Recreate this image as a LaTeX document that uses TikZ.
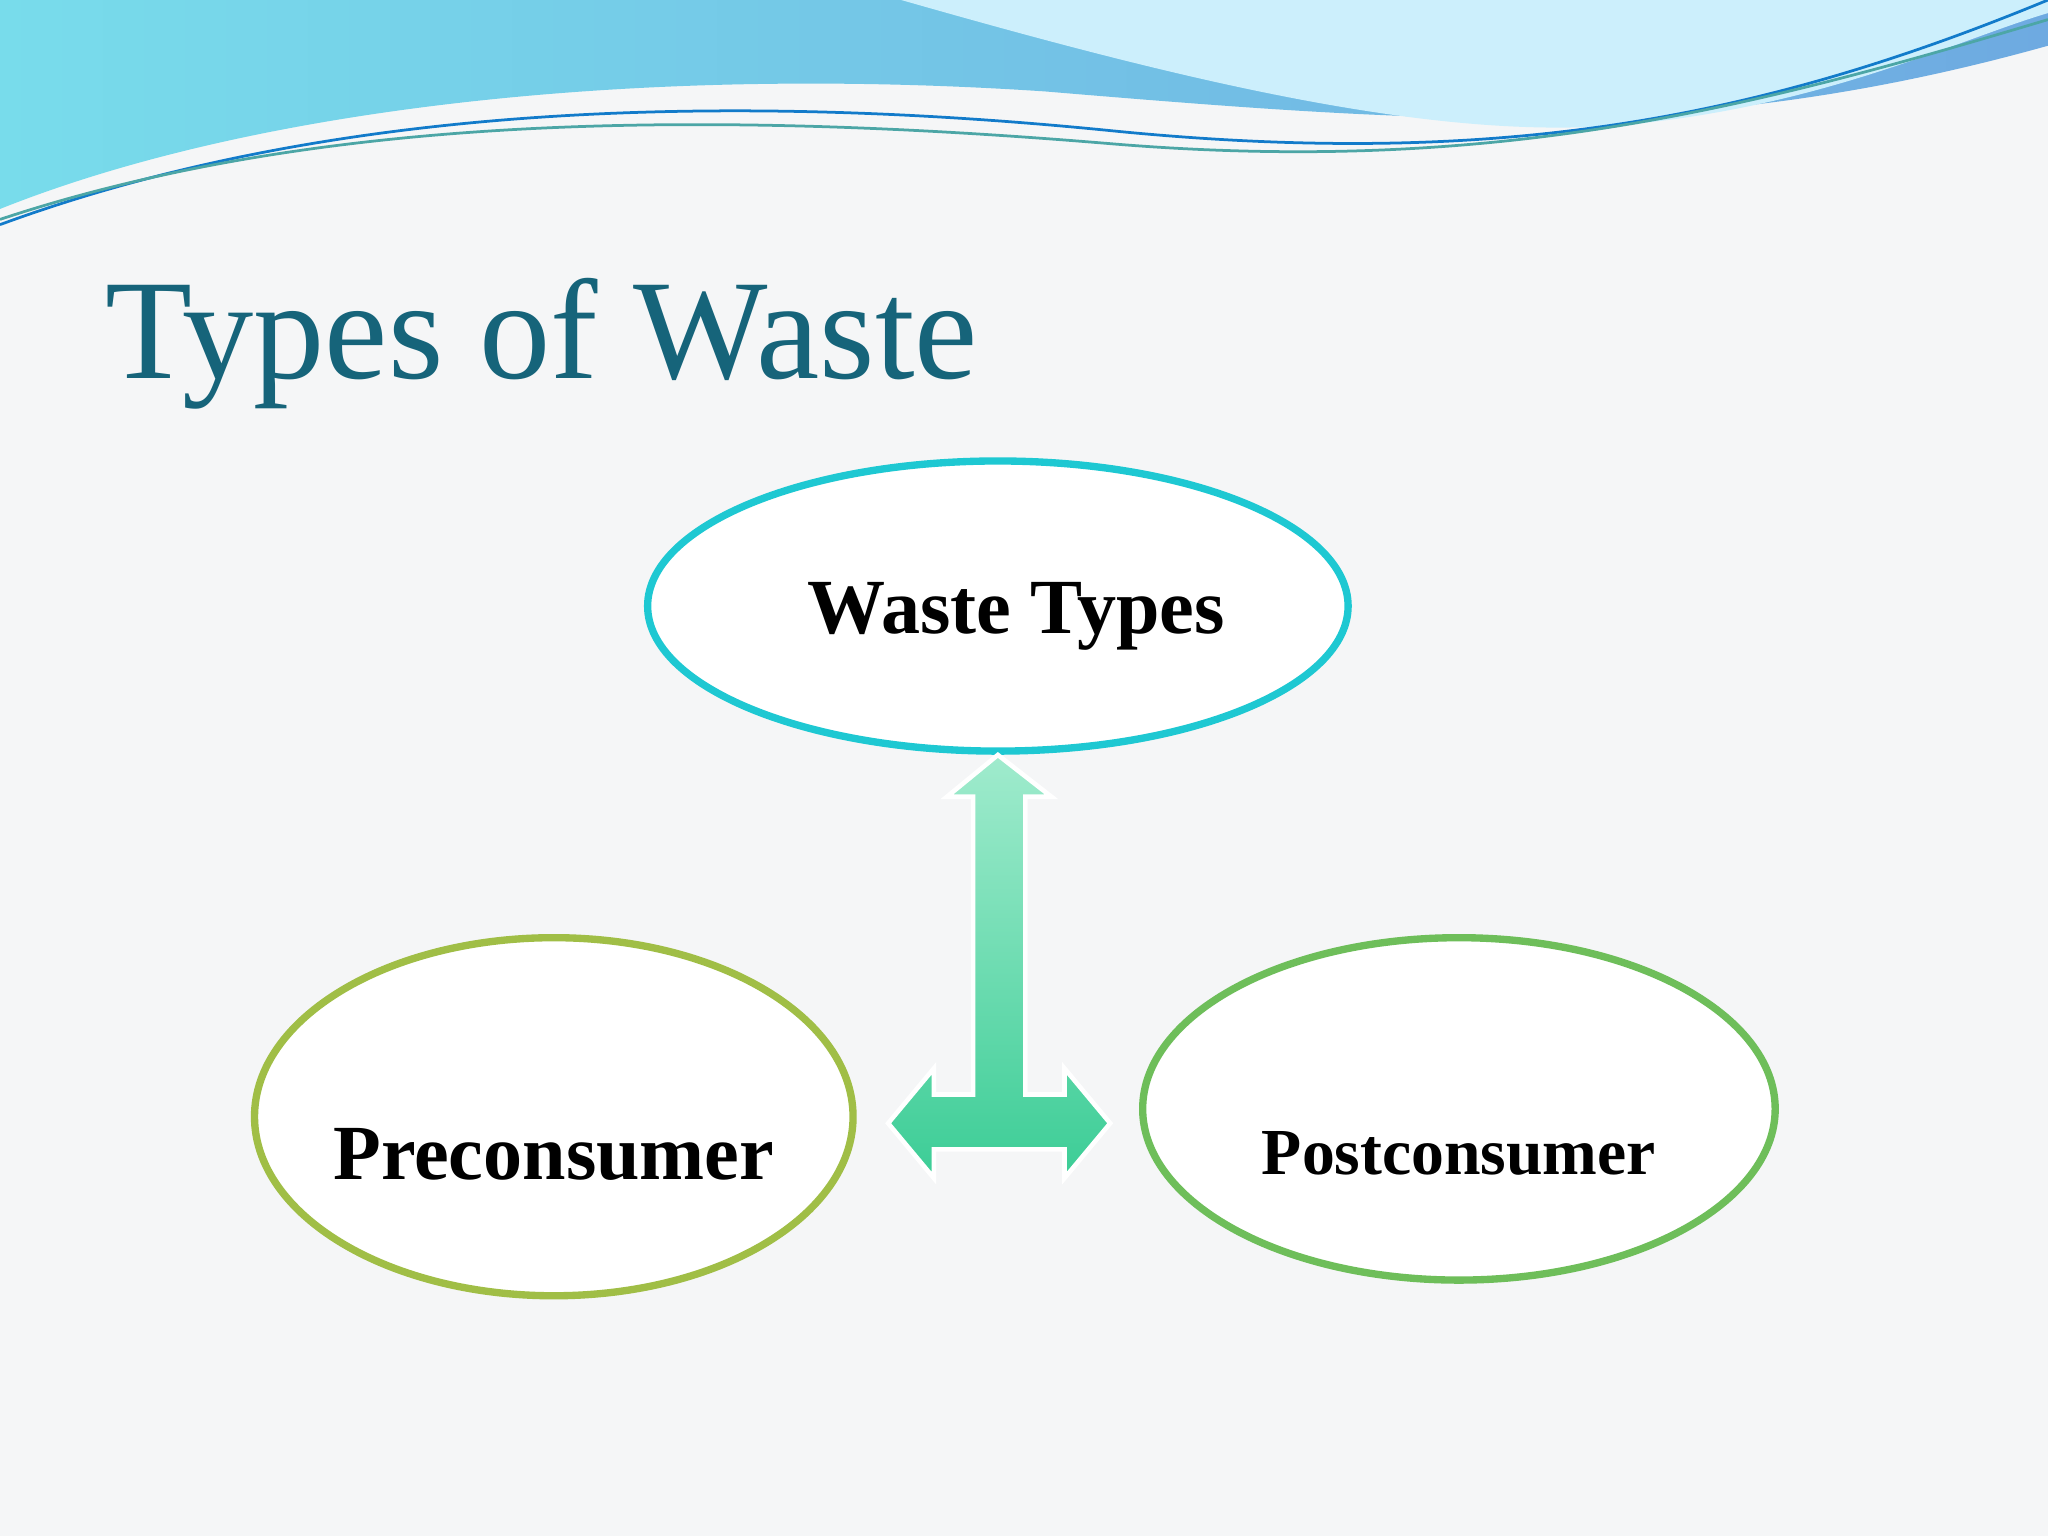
\documentclass[tikz,border=0pt]{standalone}
\usepackage{fontspec}
\setmainfont{Liberation Serif}
\usetikzlibrary{shapes.geometric}
\definecolor{bg}{RGB}{245,246,247}
\definecolor{titlec}{RGB}{22,100,122}
\definecolor{cyanE}{RGB}{30,200,210}
\definecolor{oliveE}{RGB}{160,190,70}
\definecolor{greenE}{RGB}{110,190,90}
\definecolor{waveL}{RGB}{120,220,235}
\definecolor{waveR}{RGB}{110,170,225}
\definecolor{arrT}{RGB}{160,235,205}
\definecolor{arrB}{RGB}{60,205,150}
\tikzset{oval/.style={ellipse,fill=white,line width=1.6pt,inner sep=0pt}}
\begin{document}
\begin{tikzpicture}[x=0.01cm,y=-0.01cm]
\useasboundingbox (0,0) rectangle (1568,1176);
\fill[bg] (0,0) rectangle (1568,1176);
% wave
\shade[left color=waveL, right color=waveR]
 (0,0) -- (0,160) .. controls (200,80) and (500,50) .. (800,70)
 .. controls (1100,95) and (1300,110) .. (1568,35) -- (1568,0) -- cycle;
\fill[white!80!cyan] (690,0) .. controls (900,60) and (1100,110) .. (1250,95)
 .. controls (1400,80) and (1500,30) .. (1568,10) -- (1568,0) -- cycle;
\draw[cyan!60!blue, line width=0.6pt] (0,172) .. controls (250,80) and (550,70) .. (850,100)
 .. controls (1150,130) and (1350,90) .. (1568,0);
\draw[teal!70, line width=0.6pt] (0,168) .. controls (250,85) and (550,85) .. (850,110)
 .. controls (1150,135) and (1350,80) .. (1568,15);
% title
\node[anchor=base west, text=titlec, font=\fontsize{31}{34}\selectfont, inner sep=0] (title) at (80,290) {Types of Waste};
% ellipses
\node[oval, draw=cyanE, minimum width=5.36cm, minimum height=2.22cm] (wt) at (764,464) {};
\node[font=\bfseries\fontsize{17}{20}\selectfont, anchor=base] (wtl) at (778,485) {Waste Types};
\node[oval, draw=oliveE, minimum width=4.58cm, minimum height=2.74cm] (pre) at (424,855) {};
\node[font=\bfseries\fontsize{17}{20}\selectfont, anchor=base] (prel) at (424,903) {Preconsumer};
\node[oval, draw=greenE, minimum width=4.84cm, minimum height=2.62cm] (post) at (1117,849) {};
\node[font=\bfseries\fontsize{14.3}{17}\selectfont, anchor=base] (postl) at (1117,899) {Postconsumer};
% arrow
\shade[top color=arrT, bottom color=arrB, draw=white, line width=1pt]
 (764,578) -- (805,610) -- (785,610) -- (785,838) -- (815,838) -- (815,818) -- (850,860)
 -- (815,902) -- (815,880) -- (715,880) -- (715,902) -- (680,860) -- (715,818) -- (715,838)
 -- (745,838) -- (745,610) -- (725,610) -- cycle;
\end{tikzpicture}
\end{document}
